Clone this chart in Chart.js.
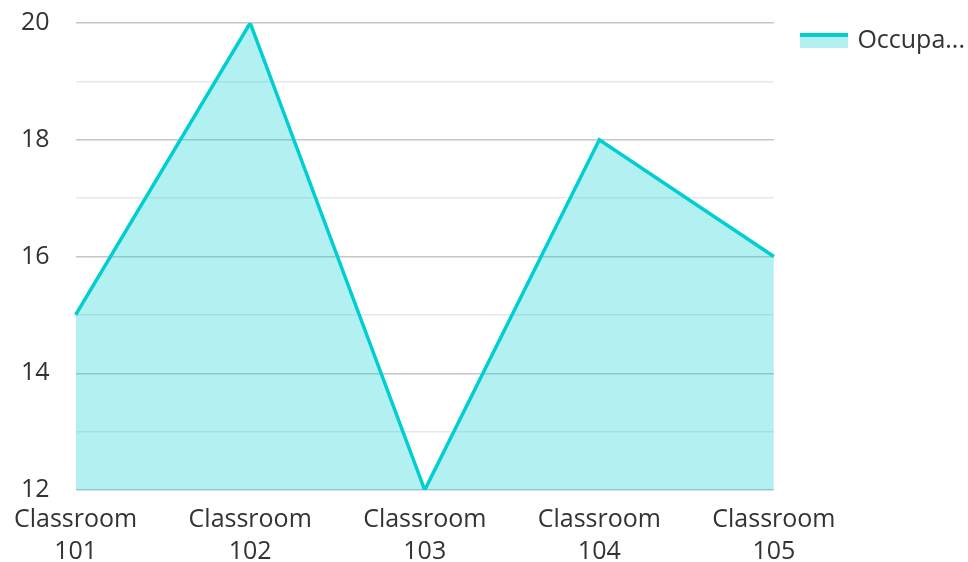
<!DOCTYPE html>
<html>
<head>
    <meta charset='utf-8'>
    <title>Occupancy</title>
    <script src="https://cdn.jsdelivr.net/npm/chart.js"></script>
    <style>
        html, body { margin: 0; padding: 0; background: #fff; }
        .wrap { width: 968px; height: 562px; }
    </style>
</head>
<body>
    <div class="wrap">
        <canvas id="occChart" width="968" height="562"></canvas>
    </div>
    <script>

        const rooms = [
            ['Classroom', '101'],
            ['Classroom', '102'],
            ['Classroom', '103'],
            ['Classroom', '104'],
            ['Classroom', '105'],
        ];
        const occupancy = [15, 20, 12, 18, 16];
        const seriesName = 'Occupancy';
        const legendText = 'Occupa...';

        const LINE = '#00CED1';
        const FILL = 'rgba(0, 206, 209, 0.3)';

        // legend swatch: thick line on top, fill below, blank margin on the left
        const swatch = document.createElement('canvas');
        swatch.width = 73;
        swatch.height = 15;
        const sctx = swatch.getContext('2d');
        sctx.fillStyle = FILL;
        sctx.fillRect(25, 0, 48, 15);
        sctx.fillStyle = LINE;
        sctx.fillRect(25, 0, 48, 4);

        Chart.defaults.font.family = "'Open Sans', sans-serif";
        Chart.defaults.font.size = 25;
        Chart.defaults.color = '#333';

        const ctx = document.getElementById('occChart').getContext('2d');

        const occChart = new Chart(ctx, {
            type: 'line',
            data: {
                labels: rooms,
                datasets: [{
                    label: seriesName,
                    data: occupancy,
                    borderColor: LINE,
                    backgroundColor: FILL,
                    borderWidth: 3.5,
                    fill: 'start',
                    tension: 0,
                    pointRadius: 0,
                    pointHoverRadius: 0,
                }]
            },
            options: {
                responsive: false,
                animation: false,
                layout: {
                    padding: { right: -7 }
                },
                plugins: {
                    legend: {
                        position: 'right',
                        align: 'start',
                        title: {
                            display: true,
                            text: '',
                            font: { size: 20 },
                            padding: 0
                        },
                        labels: {
                            usePointStyle: true,
                            pointStyleWidth: 67,
                            boxHeight: 15,
                            padding: 4,
                            generateLabels: function(chart) {
                                return [{
                                    text: legendText,
                                    pointStyle: swatch,
                                    fillStyle: FILL,
                                    strokeStyle: LINE,
                                    lineWidth: 0,
                                    datasetIndex: 0,
                                    fontColor: '#333',
                                }];
                            }
                        }
                    },
                    tooltip: { enabled: false }
                },
                scales: {
                    x: {
                        offset: false,
                        grid: { display: false, drawTicks: false },
                        border: { display: false },
                        afterFit: function(scale) {
                            scale.height = 72;
                        },
                        ticks: {
                            maxRotation: 0,
                            autoSkip: false,
                            padding: 14,
                            font: { lineHeight: 1.28 }
                        }
                    },
                    y: {
                        min: 12,
                        max: 20,
                        border: { display: false },
                        afterFit: function(scale) {
                            scale.width = 70;
                            scale.paddingTop = 23;
                            scale.paddingBottom = 15;
                        },
                        grid: {
                            drawTicks: false,
                            lineWidth: 1.5,
                            color: function(c) {
                                return c.tick && c.tick.value % 2 === 0 ? '#c6c6c6' : '#e8e8e8';
                            }
                        },
                        ticks: {
                            stepSize: 1,
                            autoSkip: false,
                            padding: 26,
                            callback: function(v) {
                                return v % 2 === 0 ? v : '';
                            }
                        }
                    }
                }
            }
        });

    </script>
</body>
</html>
